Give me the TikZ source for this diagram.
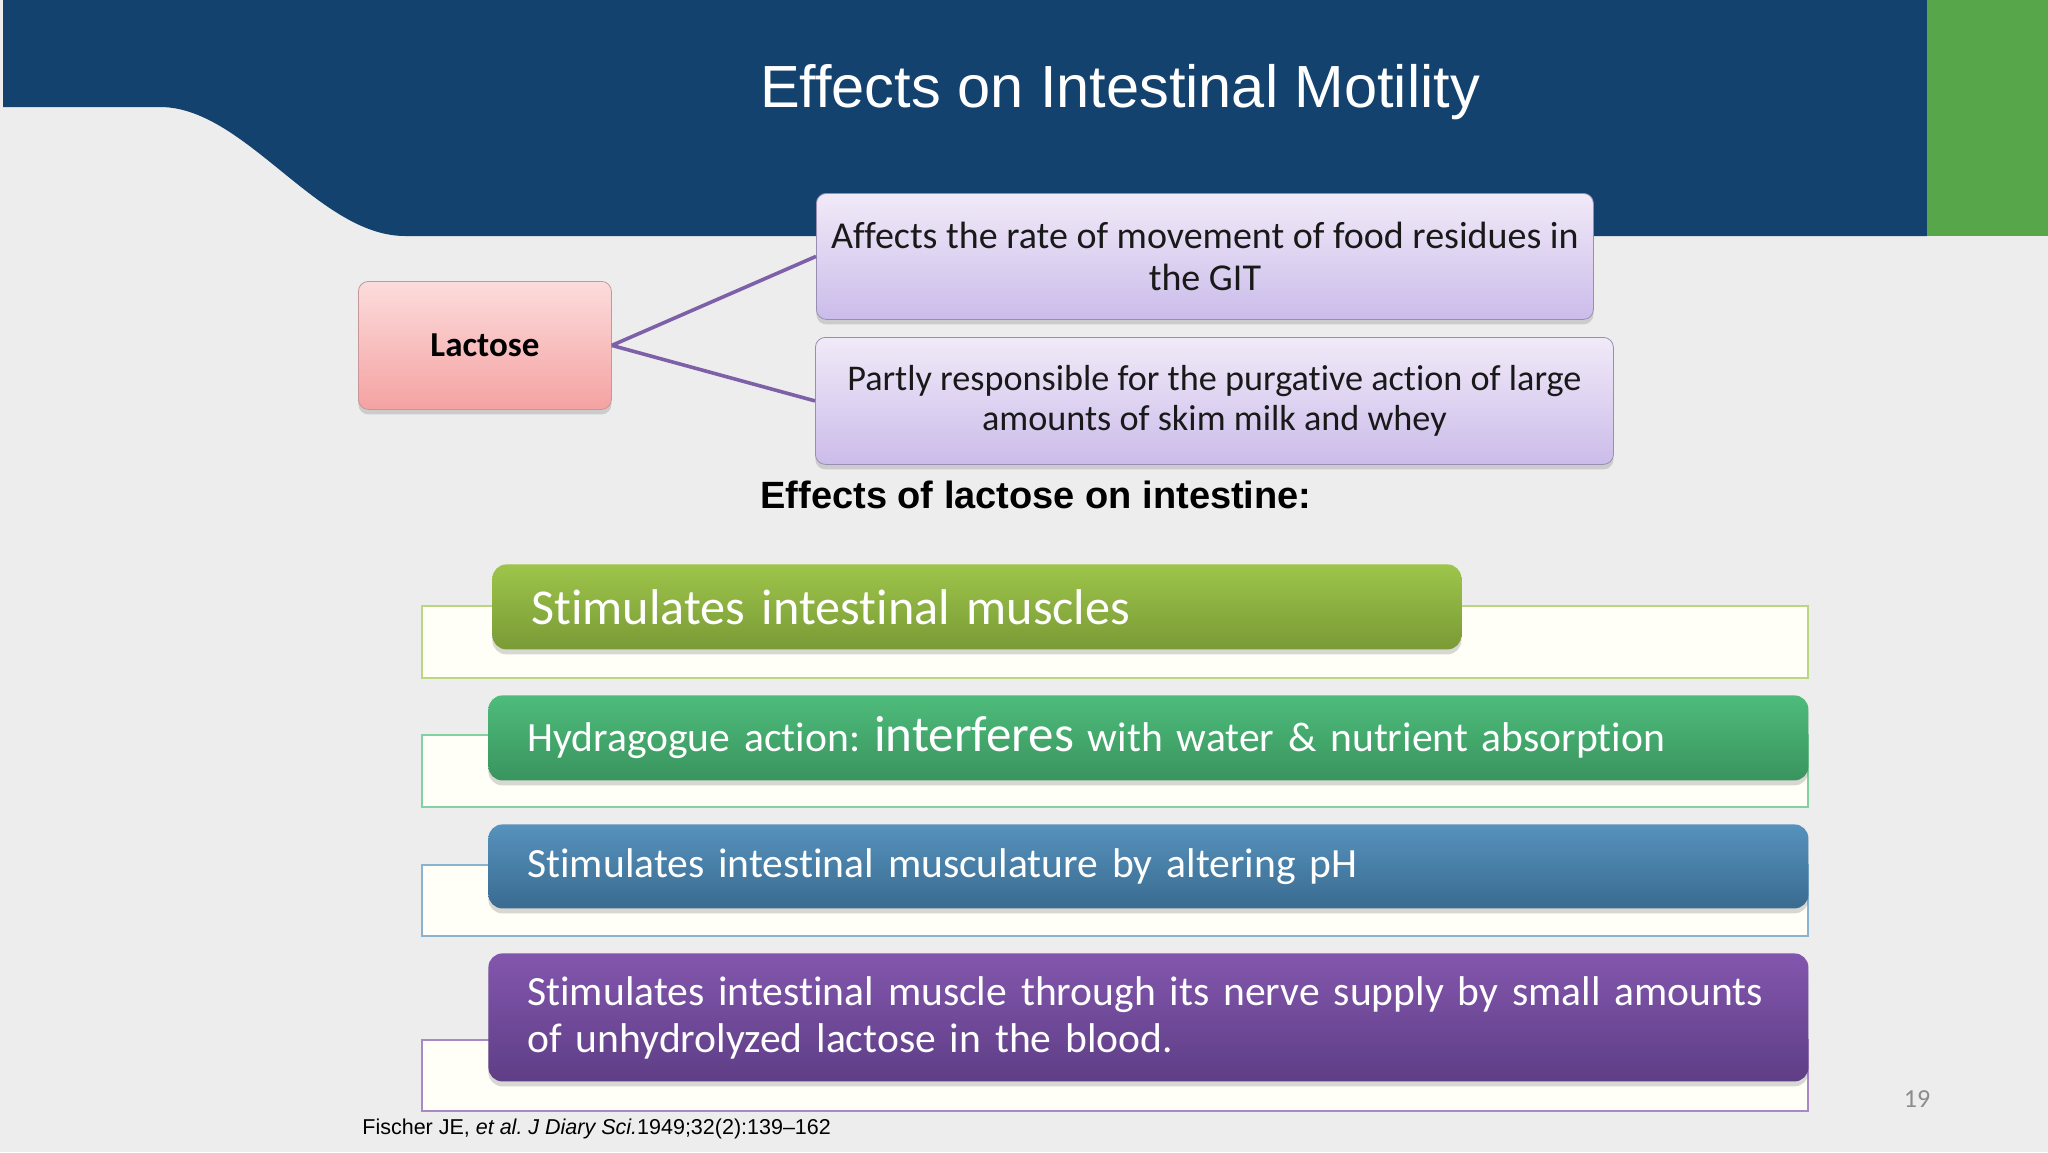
\documentclass[tikz,border=0pt]{standalone}
\usepackage{fontspec}
\setmainfont[Ligatures=NoCommon]{Carlito}
\newfontfamily\arialfont{Liberation Sans}
\usetikzlibrary{positioning,shadows}

\definecolor{headblue}{HTML}{13426E}
\definecolor{headgreen}{HTML}{58A64A}
\definecolor{pagegray}{HTML}{EDEDED}
\definecolor{linkpurple}{HTML}{7E60A8}
\definecolor{leaftop}{HTML}{F1EAF8}
\definecolor{leafbot}{HTML}{CBBCEA}
\definecolor{leafline}{HTML}{9A8DB2}
\definecolor{roottop}{HTML}{FCDCDC}
\definecolor{rootbot}{HTML}{F5A2A2}
\definecolor{rootline}{HTML}{C49898}
\definecolor{limetop}{HTML}{9DC54A}
\definecolor{limebot}{HTML}{7A9A36}
\definecolor{greentop}{HTML}{4EBC7B}
\definecolor{greenbot}{HTML}{39945E}
\definecolor{bluetop}{HTML}{5692BD}
\definecolor{bluebot}{HTML}{3A6B90}
\definecolor{violettop}{HTML}{8356AD}
\definecolor{violetbot}{HTML}{5E3E86}

\begin{document}
\frenchspacing
\begin{tikzpicture}[
    x=0.5pt,y=-0.5pt,
    softshadow/.style={drop shadow={shadow xshift=0pt,shadow yshift=-2.5pt,opacity=0.3}},
    root/.style={draw=rootline, rounded corners=5pt, top color=roottop, bottom color=rootbot,
        anchor=north west, minimum width=126.5pt, minimum height=64pt,
        font=\bfseries\fontsize{17.5}{20}\selectfont, softshadow},
    leaf/.style={draw=leafline, rounded corners=5pt, top color=leaftop, bottom color=leafbot,
        anchor=north west, minimum height=63pt, align=center, text=black!90,
        font=\fontsize{19}{21}\selectfont, softshadow},
    bar/.style n args={2}{rounded corners=7pt, top color=#1, bottom color=#2, text=white,
        anchor=north west, inner xsep=19.5pt, inner ysep=0pt, align=left, softshadow},
    frame/.style={draw=#1, fill=white!97!yellow, line width=0.6pt},
    link/.style={draw=linkpurple, line width=1.8pt}
]
    % slide background
    \useasboundingbox (0,0) rectangle (2048,1152);
    \fill[pagegray] (0,0) rectangle (2048,1152);
    \fill[headblue] (3,0) -- (1927,0) -- (1927,236) -- (405,236)
        .. controls (318,236) and (245,107) .. (160,107) -- (3,107) -- cycle;
    \fill[headgreen] (1927,0) rectangle (2048,236);

    \node[anchor=base, text=white, font=\arialfont\fontsize{29.75}{34}\selectfont]
        (title) at (1120,107) {Effects on Intestinal Motility};

    % lactose and its two effects
    \node[root] (lactose) at (358,281) {Lactose};
    \node[leaf, minimum width=388.5pt] (rate) at (816,193)
        {Affects the rate of movement of food residues in\\the GIT};
    \node[leaf, minimum width=399pt, minimum height=63.5pt,
        font=\fontsize{18.1}{19.8}\selectfont] (purge) at (815,337)
        {Partly responsible for the purgative action of large\\amounts of skim milk and whey};

    \draw[link] (lactose.east) -- (rate.west);
    \draw[link] (lactose.east) -- (purge.west);

    \node[anchor=base, font=\arialfont\bfseries\fontsize{19}{22}\selectfont]
        (heading) at (1036,508) {Effects of lactose on intestine:};

    % list of effects
    \draw[frame=limetop!70!white] (422,606) rectangle (1808,678);
    \draw[frame=greentop!70!white] (422,735) rectangle (1808,807);
    \draw[frame=bluetop!70!white] (422,865) rectangle (1808,936);
    \draw[frame=violettop!70!white] (422,1040) rectangle (1808,1111);

    \node[bar={limetop}{limebot}, text width=445.5pt, minimum height=42.5pt,
        font=\fontsize{25.1}{28}\selectfont] (muscles) at (492,564)
        {Stimulates intestinal muscles};
    \node[bar={greentop}{greenbot}, text width=621pt, minimum height=42.5pt,
        font=\fontsize{20.8}{24}\selectfont] (hydra) at (488,695)
        {Hydragogue action: {\fontsize{25.5}{28}\selectfont interferes} with water \& nutrient absorption};
    \node[bar={bluetop}{bluebot}, text width=621pt, minimum height=42pt,
        font=\fontsize{20.8}{24}\selectfont] (ph) at (488,824)
        {Stimulates intestinal musculature by altering pH};
    \node[bar={violettop}{violetbot}, text width=621pt, minimum height=64pt,
        font=\fontsize{20.8}{23.5}\selectfont] (nerve) at (488,953)
        {Stimulates intestinal muscle through its nerve supply by small amounts\\of unhydrolyzed lactose in the blood.};

    % reference and page number
    \node[anchor=base west, inner sep=0pt, font=\arialfont\fontsize{10.75}{13}\selectfont]
        (source) at (362,1134) {Fischer JE, \textit{et al. J Diary Sci.}1949;32(2):139–162};
    \node[text=black!45, font=\fontsize{13}{15}\selectfont] (pagenum) at (1917,1099) {19};
\end{tikzpicture}
\end{document}
